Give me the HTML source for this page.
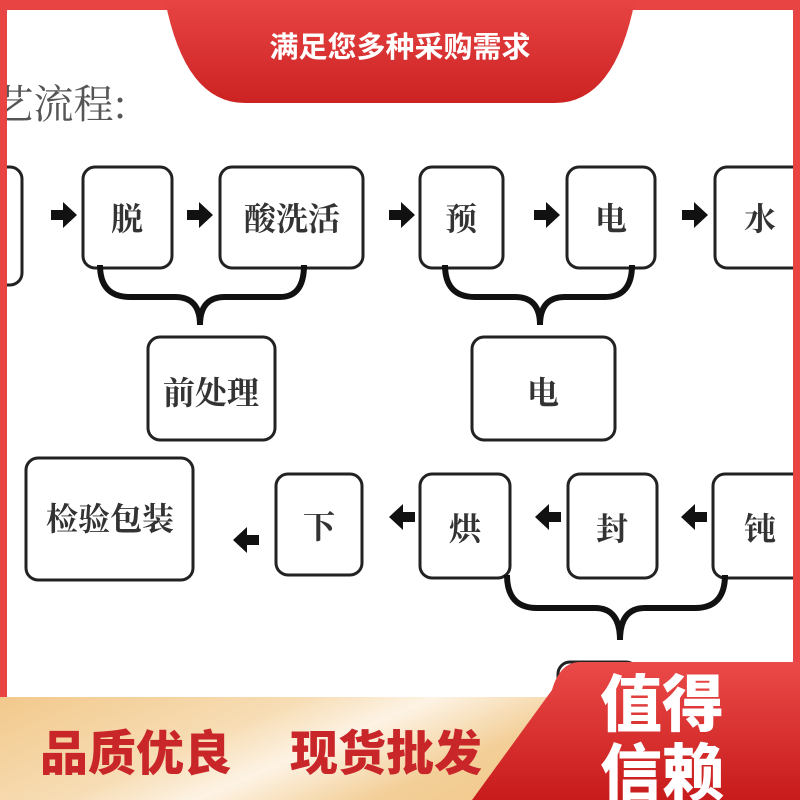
<!DOCTYPE html>
<html><head><meta charset="utf-8"><style>
html,body{margin:0;padding:0;width:800px;height:800px;overflow:hidden;background:#fff}
</style></head><body>
<svg width="800" height="800" viewBox="0 0 800 800" xmlns="http://www.w3.org/2000/svg">
<defs>
<linearGradient id="tab" x1="0" y1="0" x2="0" y2="1"><stop offset="0" stop-color="#e84444"/><stop offset="1" stop-color="#cc2222"/></linearGradient>
<linearGradient id="beige" x1="0" y1="0" x2="1" y2="0.3"><stop offset="0" stop-color="#f2c98c"/><stop offset="0.35" stop-color="#f7ddb5"/><stop offset="0.5" stop-color="#fdf3e4"/><stop offset="0.7" stop-color="#f3cf98"/><stop offset="1" stop-color="#f0c483"/></linearGradient>
<linearGradient id="red2" x1="0" y1="0" x2="0" y2="1"><stop offset="0" stop-color="#ea4a48"/><stop offset="1" stop-color="#c81b1b"/></linearGradient>
</defs>
<rect width="800" height="800" fill="#fff"/>
<g fill="none" stroke="#222" stroke-width="3">
<rect x="-20" y="167" width="42" height="118" rx="12"/>
<rect x="83" y="167" width="89" height="101" rx="12"/>
<rect x="220" y="167" width="143" height="101" rx="12"/>
<rect x="420" y="167" width="83" height="101" rx="12"/>
<rect x="567" y="167" width="88" height="101" rx="12"/>
<rect x="715" y="167" width="100" height="101" rx="12"/>
<rect x="148" y="337" width="127" height="103" rx="12"/>
<rect x="472" y="337" width="143" height="103" rx="12"/>
<rect x="26" y="458" width="167" height="122" rx="12"/>
<rect x="276" y="474" width="86" height="101" rx="12"/>
<rect x="420" y="474" width="90" height="104" rx="12"/>
<rect x="568" y="474" width="89" height="104" rx="12"/>
<rect x="713" y="474" width="100" height="104" rx="12"/>
<rect x="558" y="662" width="80" height="60" rx="12"/>
</g>
<g fill="none" stroke="#111" stroke-width="6">
<path d="M100 265 Q100 297 130 297 L175 297 Q200 297 200 325 Q200 297 225 297 L280 297 Q304 297 304 265"/>
<path d="M445 265 Q445 297 475 297 L515 297 Q540 297 540 325 Q540 297 565 297 L605 297 Q632 297 632 265"/>
<path d="M507 575 Q507 608 537 608 L595 608 Q620 608 620 640 Q620 608 645 608 L695 608 Q725 608 725 575"/>
</g>
<g fill="#111">
<path d="M51 210h12v-8l14 13-14 13v-8h-12z"/>
<path d="M187 210h12v-8l14 13-14 13v-8h-12z"/>
<path d="M389 210h12v-8l14 13-14 13v-8h-12z"/>
<path d="M534 210h12v-8l14 13-14 13v-8h-12z"/>
<path d="M682 210h12v-8l14 13-14 13v-8h-12z"/>
<path d="M259 535h-12v-8l-14 13 14 13v-8h12z"/>
<path d="M415 512h-12v-8l-14 13 14 13v-8h12z"/>
<path d="M561 512h-12v-8l-14 13 14 13v-8h12z"/>
<path d="M707 512h-12v-8l-14 13 14 13v-8h12z"/>
</g>
<g font-family="'Noto Serif CJK SC','Liberation Serif',serif" font-size="32" font-weight="bold" fill="#333" text-anchor="middle">
<text x="127" y="230">脱</text>
<text x="292" y="230">酸洗活</text>
<text x="461" y="230">预</text>
<text x="611" y="230">电</text>
<text x="760" y="230">水</text>
<text x="211" y="404">前处理</text>
<text x="543" y="404">电</text>
<text x="110" y="530">检验包装</text>
<text x="319" y="538">下</text>
<text x="465" y="540">烘</text>
<text x="612" y="540">封</text>
<text x="760" y="540">钝</text>
<text x="60" y="118" font-size="40" font-weight="normal" fill="#555">艺流程:</text>
</g>
<path d="M0 0H800V800H0Z M7 10V800H793V10Z" fill="#e84444" fill-rule="evenodd"/>
<path d="M165 0H635Q615 103 555 103H245Q185 103 165 0Z" fill="url(#tab)"/>
<text x="400" y="57" text-anchor="middle" font-family="'Noto Sans CJK SC',sans-serif" font-weight="bold" font-size="29" fill="#fff">满足您多种采购需求</text>
<rect x="0" y="697" width="800" height="103" fill="url(#beige)"/>
<path d="M580 662H800V800H472L552 690Q560 662 580 662Z" fill="url(#red2)"/>
<text x="40" y="770" font-family="'Noto Sans CJK SC',sans-serif" font-weight="900" font-size="48" fill="#c9262a">品质优良</text>
<text x="290" y="770" font-family="'Noto Sans CJK SC',sans-serif" font-weight="900" font-size="48" fill="#c9262a">现货批发</text>
<g font-family="'Noto Sans CJK SC',sans-serif" font-weight="900" font-size="62" fill="#fff">
<text x="600" y="726">值得</text>
<text x="600" y="795">信赖</text>
</g>
</svg>
</body></html>
